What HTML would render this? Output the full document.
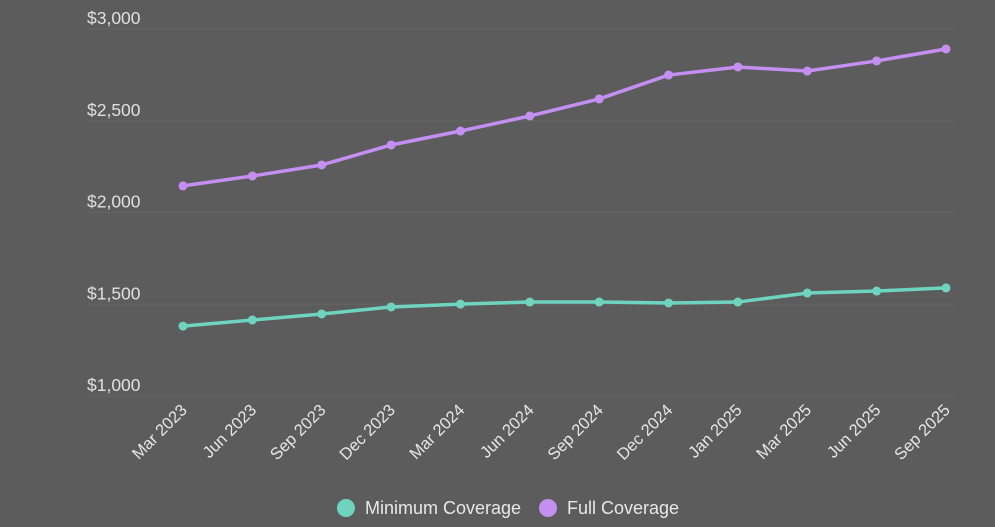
<!DOCTYPE html>
<html><head><meta charset="utf-8"><style>
body{margin:0;background:#5c5c5c;font-family:"Liberation Sans",sans-serif}
svg{display:block}
</style></head><body>
<svg id="c" width="995" height="527"></svg>
<script>
const categories=["Mar 2023","Jun 2023","Sep 2023","Dec 2023","Mar 2024","Jun 2024","Sep 2024","Dec 2024","Jan 2025","Mar 2025","Jun 2025","Sep 2025"];
const minimumCoverage=[1381,1414,1447,1485,1501,1512,1512,1507,1512,1561,1572,1589];
const fullCoverage=[2145,2199,2259,2368,2444,2526,2619,2749,2793,2771,2826,2891];
const yTicks=[1000,1500,2000,2500,3000];
const yTickLabels=["$1,000","$1,500","$2,000","$2,500","$3,000"];
const NS="http://www.w3.org/2000/svg";
const svg=document.getElementById('c');
function y(v){return 396-(v-1000)*(367/2000);}
function x(i){return 183+i*(946-183)/(categories.length-1);}
function mk(t,a,p){const e=document.createElementNS(NS,t);for(const k in a)e.setAttribute(k,a[k]);(p||svg).appendChild(e);return e;}
yTicks.forEach((v,i)=>{
  const g=mk('line',{x1:87,x2:955,y1:y(v),y2:y(v),stroke:'#646464','stroke-width':1});
  
  
  const t=mk('text',{x:87,y:y(v)-5,fill:'#e0e0e0','font-size':17.5});
  t.textContent=yTickLabels[i];
  
  
});
categories.forEach((c,i)=>{
  const t=mk('text',{x:x(i)+5,y:411,fill:'#e6e6e6','font-size':16.5,'text-anchor':'end',transform:`rotate(-45 ${x(i)+5} 411)`});
  t.textContent=c;
  
  
});
function series(vals,color,name){
  const p=mk('polyline',{points:vals.map((v,i)=>x(i)+','+y(v)).join(' '),fill:'none',stroke:color,'stroke-width':3.5,'stroke-linejoin':'round'});
  
  
  vals.forEach((v,i)=>{
    const c=mk('circle',{cx:x(i),cy:y(v),r:4.5,fill:color});
    
    
  });
}
series(minimumCoverage,'#6ed4bf','minimum-coverage');
series(fullCoverage,'#c48ff0','full-coverage');
const legend=[["Minimum Coverage","#6ed4bf",346],["Full Coverage","#c48ff0",548]];
legend.forEach(l=>{
  const g=mk('g',{});
  
  
  mk('circle',{cx:l[2],cy:508,r:9,fill:l[1]},g);
  const t=mk('text',{x:l[2]+19,y:514,fill:'#e8e8e8','font-size':18},g);
  t.textContent=l[0];
});
</script>
</body></html>
